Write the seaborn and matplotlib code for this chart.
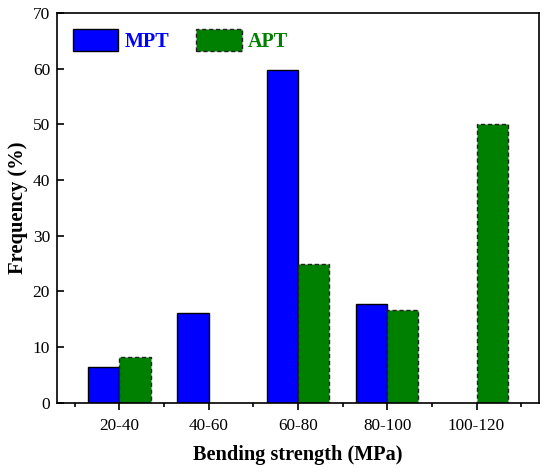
import seaborn as sns
import matplotlib.pyplot as plt
import pandas as pd
import numpy as np
from matplotlib.ticker import MultipleLocator, FixedLocator

# values (%)
ranges = ['20-40', '40-60', '60-80', '80-100', '100-120']
mpt = [6.4, 16.1, 59.7, 17.7, np.nan]
apt = [8.3, np.nan, 25.0, 16.7, 50.0]

dt = pd.DataFrame({
    'range': ranges * 2,
    'freq': mpt + apt,
    'group': ['MPT'] * len(ranges) + ['APT'] * len(ranges),
})

sns.set_style('ticks')
plt.rcParams['font.family'] = ['Liberation Serif', 'DejaVu Serif']
plt.rcParams['text.color'] = 'black'
plt.rcParams['axes.labelcolor'] = 'black'
plt.rcParams['xtick.color'] = 'black'
plt.rcParams['ytick.color'] = 'black'

fig = plt.figure(figsize=(5.5, 4.74), dpi=100)
ax = fig.add_axes([0.1036, 0.150, 0.8764, 0.823])
sns.barplot(x='range', y='freq', hue='group', data=dt, ax=ax,
            palette=['#0000ff', '#008000'], width=0.7, gap=0,
            edgecolor='black', linewidth=1, saturation=1, legend=False)

for p in ax.containers[1].patches:
    p.set_linestyle((0, (3, 2)))
    p.set_edgecolor('#222222')

ax.set_xlim(-0.7, 4.7)
ax.set_ylim(0, 70)
ax.yaxis.set_major_locator(MultipleLocator(10))
ax.xaxis.set_minor_locator(FixedLocator(np.arange(-0.5, 5, 1)))
for s in ax.spines.values():
    s.set_visible(True)
    s.set_linewidth(1.2)
    s.set_color('black')
ax.tick_params(axis='y', direction='in', length=5, width=1.2, labelsize=12.5, pad=5)
ax.tick_params(axis='x', which='major', direction='out', length=5, width=1.2, labelsize=12.3, pad=6)
ax.tick_params(axis='x', which='minor', direction='out', length=3, width=1.2)
ax.set_xlabel('Bending strength (MPa)', fontsize=14.6, fontweight='bold', labelpad=8)
ax.set_ylabel('Frequency (%)', fontsize=14.8, fontweight='bold', labelpad=3)

leg = ax.legend(ax.containers, ['MPT', 'APT'], loc='upper left', ncol=2, frameon=False,
                prop={'weight': 'bold', 'size': 14.5}, handlelength=2.25, handleheight=1.3,
                handletextpad=0.3, columnspacing=1.35, borderaxespad=0.4,
                bbox_to_anchor=(0.0, 1.0))
for txt, c in zip(leg.get_texts(), ['#0000ff', '#008000']):
    txt.set_color(c)

fig.savefig('out.png', dpi=100)
